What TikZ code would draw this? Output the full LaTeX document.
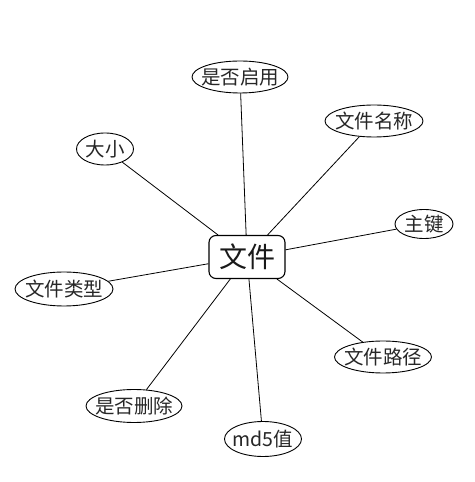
\documentclass[tikz,border=0pt]{standalone}
\usepackage{fontspec}
\setmainfont{Noto Sans CJK SC}
\usetikzlibrary{shapes.geometric}
\begin{document}
\begin{tikzpicture}[x=1pt,y=1pt,
  leaf/.style={draw=black, line width=0.9pt, ellipse, inner sep=0pt, minimum height=32pt,
    font=\fontsize{19.5}{19.5}\selectfont, text=black!85,
    execute at begin node={\hbox to 0pt\bgroup\hss}, execute at end node={\hss\egroup}},
  hub/.style={draw=black, line width=1.1pt, rounded corners=7pt, minimum width=76pt, minimum height=43pt, inner sep=0pt, font=\fontsize{28}{28}\selectfont, text=black!90},
  link/.style={draw=black, line width=0.8pt}]
\useasboundingbox (0,0) rectangle (474,482);
\node[hub] (c) at (247,225) {文件};
\node[leaf, minimum width=96pt] (a) at (240,405) {是否启用};
\node[leaf, minimum width=98pt] (b) at (374,361) {文件名称};
\node[leaf, minimum width=57pt] (d) at (105,333) {大小};
\node[leaf, minimum width=58pt, minimum height=29pt] (e) at (424,258) {主键};
\node[leaf, minimum width=98pt, minimum height=34pt] (f) at (64,193) {文件类型};
\node[leaf, minimum width=97pt] (g) at (383,125) {文件路径};
\node[leaf, minimum width=96pt, minimum height=33pt] (h) at (134,76) {是否删除};
\node[leaf, minimum width=77pt, minimum height=35pt] (i) at (263,43) {md5值};
\foreach \n in {a,b,d,e,f,g,h,i} \draw[link] (c) -- (\n);
\end{tikzpicture}
\end{document}
